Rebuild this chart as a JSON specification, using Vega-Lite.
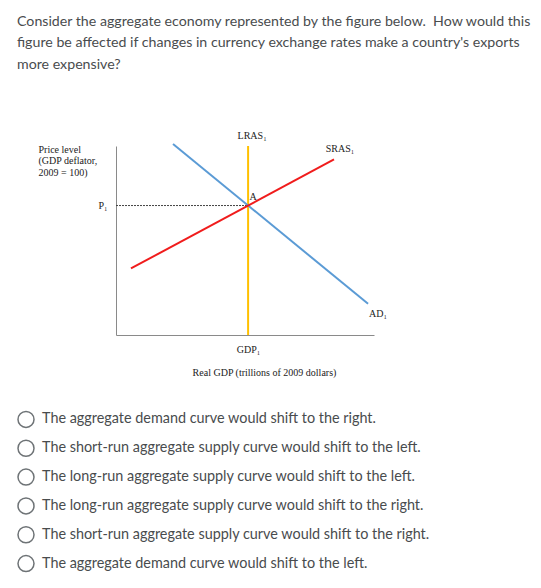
{
  "$schema": "https://vega.github.io/schema/vega-lite/v6.json",
  "background": "white",
  "padding": {"left": 15, "top": 14, "right": 0, "bottom": 0},
  "bounds": "flush",
  "spacing": 70,
  "title": {
    "text": ["Consider the aggregate economy represented by the figure below.\u00a0 How would this",
             "figure be affected if changes in currency exchange rates make a country's exports",
             "more expensive?"],
    "anchor": "start", "frame": "group", "dx": -99, "offset": 59,
    "font": "Lato", "fontSize": 14.2, "fontWeight": "normal", "color": "#494c4e", "lineHeight": 21.5
  },
  "datasets": {
    "curves": [
      {"curve": "LRAS", "gdp": 5.12, "price": 0},
      {"curve": "LRAS", "gdp": 5.12, "price": 10},
      {"curve": "AD", "gdp": 2.21, "price": 10.11},
      {"curve": "AD", "gdp": 9.77, "price": 1.65},
      {"curve": "SRAS", "gdp": 0.58, "price": 3.52},
      {"curve": "SRAS", "gdp": 8.45, "price": 9.29}
    ],
    "p1line": [
      {"gdp": 0, "price": 6.85},
      {"gdp": 5.12, "price": 6.85}
    ],
    "labels": [
      {"label": "LRAS₁", "gdp": 5.12, "price": 10},
      {"label": "SRAS₁", "gdp": 8.45, "price": 9.29},
      {"label": "AD₁", "gdp": 9.77, "price": 1.65},
      {"label": "A", "gdp": 5.12, "price": 6.85}
    ],
    "options": [
      {"order": 1, "option": "The aggregate demand curve would shift to the right."},
      {"order": 2, "option": "The short-run aggregate supply curve would shift to the left."},
      {"order": 3, "option": "The long-run aggregate supply curve would shift to the left."},
      {"order": 4, "option": "The long-run aggregate supply curve would shift to the right."},
      {"order": 5, "option": "The short-run aggregate supply curve would shift to the right."},
      {"order": 6, "option": "The aggregate demand curve would shift to the left."}
    ]
  },
  "vconcat": [
    {
      "width": 258,
      "height": 189,
      "encoding": {
        "x": {"field": "gdp", "type": "quantitative",
              "scale": {"domain": [0, 10], "nice": false},
              "axis": {"values": [5.12], "labelExpr": "'GDP₁'", "ticks": false, "grid": false,
                       "domainColor": "#8a8a8a", "labelFont": "Liberation Serif, DejaVu Serif", "labelFontSize": 10,
                       "labelColor": "#222", "labelPadding": 9,
                       "title": "Real GDP (trillions of 2009 dollars)", "titleFont": "Liberation Serif",
                       "titleFontSize": 10, "titleFontWeight": "normal", "titleColor": "#222",
                       "titleX": 148, "titleY": 32}},
        "y": {"field": "price", "type": "quantitative",
              "scale": {"domain": [0, 10], "nice": false},
              "axis": {"values": [6.85], "labelExpr": "'P₁'", "ticks": false, "grid": false,
                       "domainColor": "#8a8a8a", "labelFont": "Liberation Serif, DejaVu Serif", "labelFontSize": 10,
                       "labelColor": "#222", "labelPadding": 9,
                       "title": ["Price level", "(GDP deflator,", "2009 = 100)"],
                       "titleFont": "Liberation Serif", "titleFontSize": 10, "titleFontWeight": "normal",
                       "titleColor": "#222", "titleAngle": 0, "titleAlign": "left", "titleBaseline": "top",
                       "titleX": -78, "titleY": -2, "titleLineHeight": 11.5}}
      },
      "layer": [
        {
          "data": {"name": "p1line"},
          "mark": {"type": "line", "color": "#444", "strokeWidth": 1, "strokeDash": [2, 1]}
        },
        {
          "data": {"name": "curves"},
          "mark": {"type": "line", "strokeWidth": 2},
          "encoding": {
            "color": {"field": "curve", "type": "nominal",
                      "scale": {"domain": ["LRAS", "AD", "SRAS"], "range": ["#FFC000", "#5B9BD5", "#F01C1C"]},
                      "legend": null}
          }
        },
        {
          "data": {"name": "labels"},
          "transform": [{"filter": "datum.label == 'LRAS₁'"}],
          "mark": {"type": "text", "font": "Liberation Serif, DejaVu Serif", "fontSize": 10, "color": "#222", "dx": 4, "dy": -10},
          "encoding": {"text": {"field": "label"}}
        },
        {
          "data": {"name": "labels"},
          "transform": [{"filter": "datum.label == 'SRAS₁'"}],
          "mark": {"type": "text", "font": "Liberation Serif, DejaVu Serif", "fontSize": 10, "color": "#222", "dx": 6, "dy": -10},
          "encoding": {"text": {"field": "label"}}
        },
        {
          "data": {"name": "labels"},
          "transform": [{"filter": "datum.label == 'AD₁'"}],
          "mark": {"type": "text", "font": "Liberation Serif, DejaVu Serif", "fontSize": 10, "color": "#222", "dx": 10, "dy": 10},
          "encoding": {"text": {"field": "label"}}
        },
        {
          "data": {"name": "labels"},
          "transform": [{"filter": "datum.label == 'A'"}],
          "mark": {"type": "text", "font": "Liberation Serif", "fontSize": 10, "color": "#222", "dx": 5, "dy": -8.5},
          "encoding": {"text": {"field": "label"}}
        }
      ]
    },
    {
      "width": 258,
      "height": 173,
      "data": {"name": "options"},
      "encoding": {
        "x": {"datum": 0, "type": "quantitative", "scale": {"domain": [0, 1]}, "axis": null},
        "y": {"field": "order", "type": "ordinal", "scale": {"type": "point", "padding": 0.5}, "axis": null}
      },
      "layer": [
        {
          "mark": {"type": "point", "shape": "circle", "filled": false, "size": 256,
                   "stroke": "#6e7376", "strokeWidth": 1.5, "xOffset": -90, "opacity": 1}
        },
        {
          "mark": {"type": "text", "align": "left", "baseline": "middle", "dx": -74,
                   "font": "Lato", "fontSize": 14.4, "color": "#494c4e"},
          "encoding": {"text": {"field": "option"}}
        }
      ]
    }
  ],
  "config": {"view": {"stroke": null}}
}
